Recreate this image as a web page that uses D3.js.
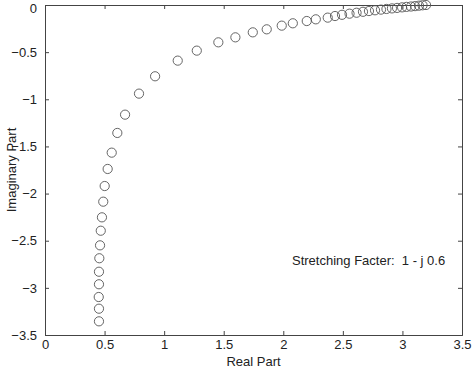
<!DOCTYPE html>
<html>
<head>
<meta charset="utf-8">
<script src="https://cdn.jsdelivr.net/npm/d3@7"></script>
<style>
  body{margin:0;background:#fff}
  svg text{font-family:"Liberation Sans",Arial,sans-serif;fill:#222}
</style>
</head>
<body>
<div id="chart"></div>
<script>
// values
var realPart = [0.453,0.453,0.451,0.453,0.453,0.456,0.462,0.468,0.478,0.489,0.501,
  0.526,0.560,0.607,0.672,0.789,0.924,1.114,1.274,1.455,1.598,
  1.744,1.861,1.987,2.080,2.197,2.273,2.373,
  2.434,2.493,2.556,2.615,2.669,2.719,2.770,2.820,2.866,2.912,2.955,2.997,3.034,3.072,3.106,3.139,3.169,3.198]
var imagPart = [-3.355,-3.221,-3.097,-2.962,-2.829,-2.686,-2.549,-2.394,-2.252,-2.086,-1.920,
  -1.739,-1.566,-1.357,-1.163,-0.940,-0.756,-0.590,-0.484,-0.396,-0.343,
  -0.290,-0.258,-0.219,-0.194,-0.170,-0.152,-0.134,
  -0.117,-0.104,-0.092,-0.082,-0.072,-0.064,-0.056,-0.049,-0.042,-0.036,-0.031,-0.025,-0.020,-0.016,-0.012,-0.007,-0.003,0]
var xTicks = [0,0.5,1,1.5,2,2.5,3,3.5]
var yTicks = [0,-0.5,-1,-1.5,-2,-2.5,-3,-3.5]

var width = 474, height = 370
var margin = {top:5, right:12, bottom:35, left:45}

var svg = d3.select("#chart").append("svg")
  .attr("width", width).attr("height", height)

var x = d3.scaleLinear().domain([0,3.5]).range([margin.left, width-margin.right])
var y = d3.scaleLinear().domain([-3.5,0]).range([height-margin.bottom, margin.top])

var axisColor = "#444"
var fmt = function(d){ return d3.format("")(d) }

// axes with inward ticks, box like matlab
svg.append("g")
  .attr("transform","translate(0,"+(height-margin.bottom)+")")
  .call(d3.axisBottom(x).tickValues(xTicks).tickSize(-4).tickPadding(5).tickFormat(fmt))
  .attr("class","xaxis")
svg.append("g")
  .attr("transform","translate("+margin.left+",0)")
  .call(d3.axisLeft(y).tickValues(yTicks).tickSize(-4).tickPadding(8).tickFormat(fmt))
  .attr("class","yaxis")
svg.append("g")
  .attr("transform","translate(0,"+margin.top+")")
  .call(d3.axisTop(x).tickValues(xTicks).tickSize(-4).tickFormat(""))
svg.append("g")
  .attr("transform","translate("+(width-margin.right)+",0)")
  .call(d3.axisRight(y).tickValues(yTicks).tickSize(-4).tickFormat(""))

svg.selectAll(".domain").attr("stroke",axisColor).attr("stroke-width",1)
svg.selectAll(".tick line").attr("stroke",axisColor)
svg.selectAll(".tick text").style("font-size","13px").attr("fill","#222")
// keep the top "0" inside the picture
svg.select(".yaxis").selectAll(".tick text").filter(function(d){ return d==0 }).attr("dy","0.55em")

// points
svg.append("g").selectAll("circle")
  .data(realPart)
  .enter()
  .append("circle")
  .attr("cx",function(d){ return x(d) })
  .attr("cy",function(d,i){ return y(imagPart[i]) })
  .attr("r",4.6)
  .attr("fill","none")
  .attr("stroke","#555")
  .attr("stroke-width",0.9)

// labels
svg.append("text")
  .text("Real Part")
  .attr("x",(margin.left+width-margin.right)/2)
  .attr("y",366)
  .attr("text-anchor","middle")
  .style("font-size","13px")
svg.append("text")
  .text("Imaginary Part")
  .attr("transform","translate(16,"+((margin.top+height-margin.bottom)/2)+") rotate(-90)")
  .attr("text-anchor","middle")
  .style("font-size","13px")
svg.append("text")
  .text("Stretching Facter:  1 - j 0.6")
  .attr("x",292)
  .attr("y",265)
  .attr("xml:space","preserve")
  .style("white-space","pre")
  .style("font-size","13px")
</script>
</body>
</html>
